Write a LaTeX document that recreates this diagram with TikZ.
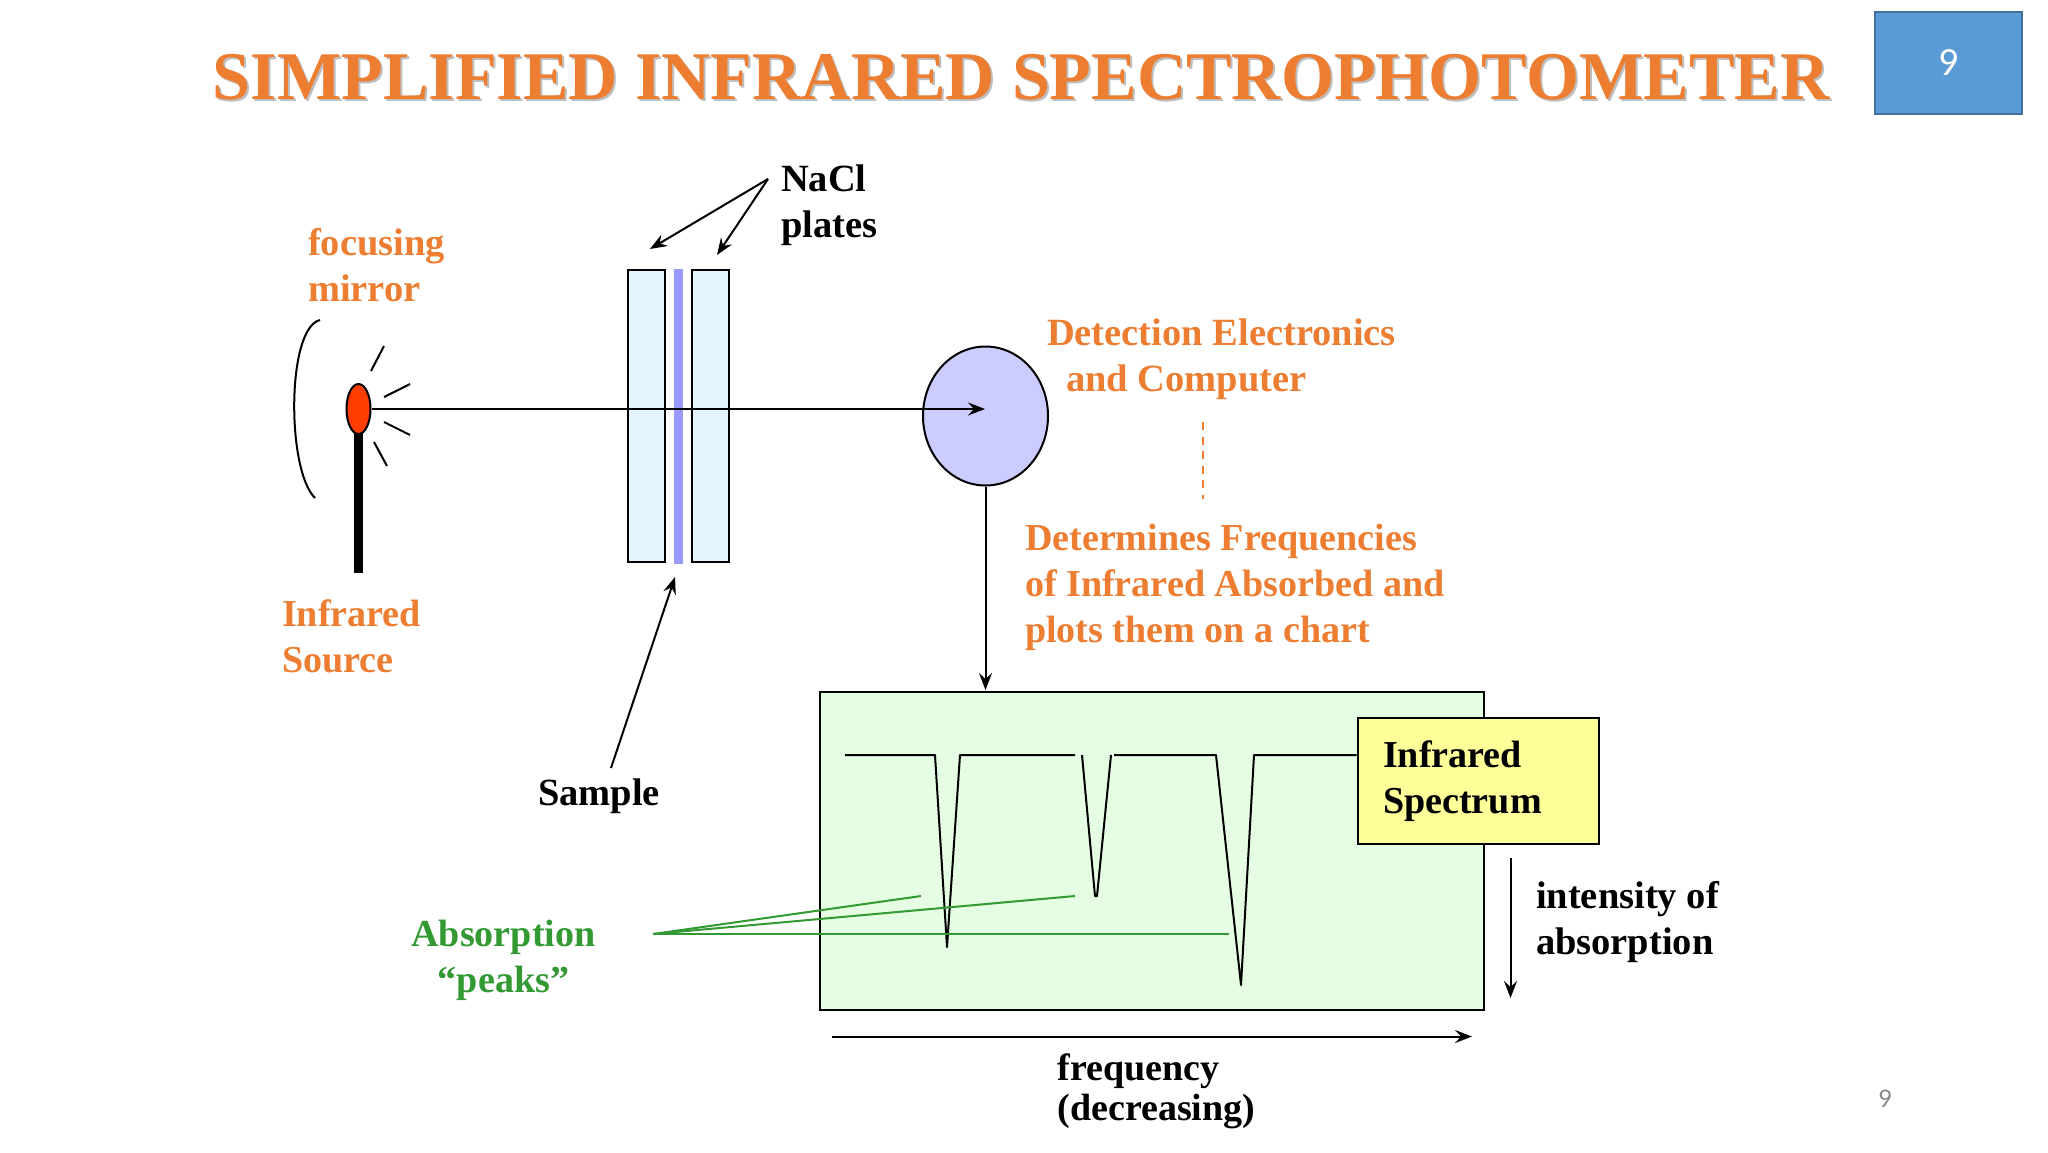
\documentclass[tikz,border=0pt]{standalone}
\usepackage{fontspec}
\setmainfont{Liberation Serif}
\newfontfamily\slidefont{Carlito}
\usetikzlibrary{arrows.meta,shapes.geometric}
\definecolor{titleorange}{HTML}{ED7D31}
\definecolor{labelgreen}{HTML}{339933}
\definecolor{plateblue}{HTML}{E3F4FF}
\definecolor{samplecol}{HTML}{9999FF}
\definecolor{detcol}{HTML}{CCCCFF}
\definecolor{chartcol}{HTML}{E5FDE3}
\definecolor{boxyellow}{HTML}{FFFF99}
\definecolor{flamecol}{HTML}{FF3D00}
\definecolor{badgefill}{HTML}{5B9BD5}
\definecolor{badgeline}{HTML}{41719C}
\definecolor{pagegray}{HTML}{8A8A8A}
\tikzset{
  x=1pt,y=-1pt,
  lbl/.style={anchor=north west,inner sep=0pt,outer sep=0pt,align=left,font=\fontsize{38.5}{46}\bfseries\selectfont},
  lblsmall/.style={lbl,font=\fontsize{38.1}{46}\bfseries\selectfont},
  lblc/.style={lblsmall,anchor=north,align=center},
  orangetxt/.style={text=titleorange},
  greentxt/.style={text=labelgreen},
  plate/.style={draw=black,line width=2pt,fill=plateblue,minimum width=37pt,minimum height=292pt,inner sep=0pt,anchor=north west},
  arr/.style={draw=black,line width=2pt,-{Stealth[length=17pt,width=13pt,inset=6pt]}},
  blackline/.style={draw=black,line width=2pt},
  greenline/.style={draw=labelgreen,line width=2pt},
  titletext/.style={inner sep=0pt,anchor=base,font=\fontsize{68.2}{80}\bfseries\selectfont},
}
\begin{document}
\begin{tikzpicture}
\useasboundingbox (0,0) rectangle (2048,1152);
% title with its soft shadow
\node[titletext,text=black!25] (titleshadow) at (1023,101) {SIMPLIFIED INFRARED SPECTROPHOTOMETER};
\node[titletext,text=titleorange] (title) at (1021,99) {SIMPLIFIED INFRARED SPECTROPHOTOMETER};
% badge and page number
\node[draw=badgeline,line width=2pt,fill=badgefill,minimum width=147pt,minimum height=102pt,inner sep=0pt,anchor=north west,text=white,font=\slidefont\fontsize{40}{44}\selectfont] (badge) at (1874,11) {9};
\node[inner sep=0pt,text=pagegray,font=\slidefont\fontsize{27}{30}\selectfont] (pagenum) at (1885,1099) {9};
% source
\fill[black] (354,432) rectangle (363,573);
\node[draw=black,line width=2pt,fill=flamecol,ellipse,minimum width=24pt,minimum height=50pt,inner sep=0pt] (flame) at (358.5,409) {};
\draw[blackline] (320,320) .. controls (286.5,328) and (286.5,470) .. (315,498);
\draw[blackline] (371,371) -- (384,346);
\draw[blackline] (384,397) -- (410,384);
\draw[blackline] (384,422) -- (410,435);
\draw[blackline] (374,442) -- (387,466);
% plates and sample
\node[plate] (plateA) at (626.5,268.5) {};
\node[plate] (plateB) at (690.5,268.5) {};
\node[fill=samplecol,minimum width=9pt,minimum height=295pt,inner sep=0pt,anchor=north west] (sample) at (674,268.5) {};
% detector
\node[draw=black,line width=2pt,fill=detcol,ellipse,minimum width=125pt,minimum height=139pt,inner sep=0pt] (detector) at (985.5,416) {};
\coordinate (beamend) at (985,409);
\draw[arr] (flame.east) -- (beamend);
% chart
\node[draw=black,line width=2pt,fill=chartcol,minimum width=664pt,minimum height=318pt,inner sep=0pt,anchor=north west] (chart) at (818.5,690.5) {};
\coordinate (chartin) at (985.5,690);
\draw[arr] (detector.south) -- (chartin);
% spectrum
\node[draw=black,line width=2pt,fill=boxyellow,minimum width=241pt,minimum height=126pt,inner sep=0pt,anchor=north west] (specbox) at (1356.5,716.5) {};
\draw[blackline,line join=round] (845,755) -- (935,755) -- (947,947) -- (960,755) -- (1075,755);
\draw[blackline,line join=round] (1082,755) -- (1095,896) -- (1097,896) -- (1111,755);
\draw[blackline,line join=round] (1114,755) -- (1216,755) -- (1241,985) -- (1254,755) -- (specbox.west |- 0,755);
% green lines
\coordinate (gstart) at (653,934);
\coordinate (g1) at (921,896);
\coordinate (g2) at (1075,896);
\coordinate (g3) at (1229,934);
\draw[greenline] (gstart) -- (g1);
\draw[greenline] (gstart) -- (g2);
\draw[greenline] (gstart) -- (g3);
% axis arrows
\coordinate (ia) at (1510.5,858);
\coordinate (ib) at (1510.5,998);
\draw[arr] (ia) -- (ib);
\coordinate (fa) at (832,1036.5);
\coordinate (fb) at (1472,1036.5);
\draw[arr] (fa) -- (fb);
% labels
\node[lbl] (nacl) at (781,158.8) {\strut NaCl\\plates};
\coordinate (nb) at (768,179);
\coordinate (na) at (650,249);
\coordinate (nc) at (717,255);
\draw[arr] (nb) -- (na);
\draw[arr] (nb) -- (nc);
\node[lbl,orangetxt] (mirrorlbl) at (308,222.8) {\strut focusing\\mirror};
\node[lblsmall,orangetxt] (sourcelbl) at (282,593.8) {\strut Infrared\\Source};
\node[lbl,orangetxt] (detlbl) at (1047,312.8) {\strut Detection Electronics\\\hspace{19pt}and Computer};
\node[lblsmall,orangetxt] (detlbl2) at (1025,518) {\strut Determines Frequencies\\of Infrared Absorbed and\\plots them on a chart};
\coordinate (da) at (1203,422);
\coordinate (db) at (1203,499);
\draw[draw=titleorange,line width=2.5pt,dash pattern=on 8pt off 6.5pt] (da) -- (db);
\node[lbl] (samplelbl) at (538,773) {\strut Sample};
\coordinate (sa) at (611,768);
\coordinate (sb) at (675,577);
\draw[arr] (sa) -- (sb);
\node[lblc,greentxt] (peaks) at (503.5,914) {\strut Absorption\\“peaks”};
\node[lblsmall] (speclbl) at (1383,734.8) {\strut Infrared\\Spectrum};
\node[lbl] (intlbl) at (1536,875.8) {\strut intensity of\\absorption};
\node[lblsmall,font=\fontsize{38}{40}\bfseries\selectfont] (freqlbl) at (1057.6,1052) {\strut frequency\\(decreasing)};
\end{tikzpicture}
\end{document}
